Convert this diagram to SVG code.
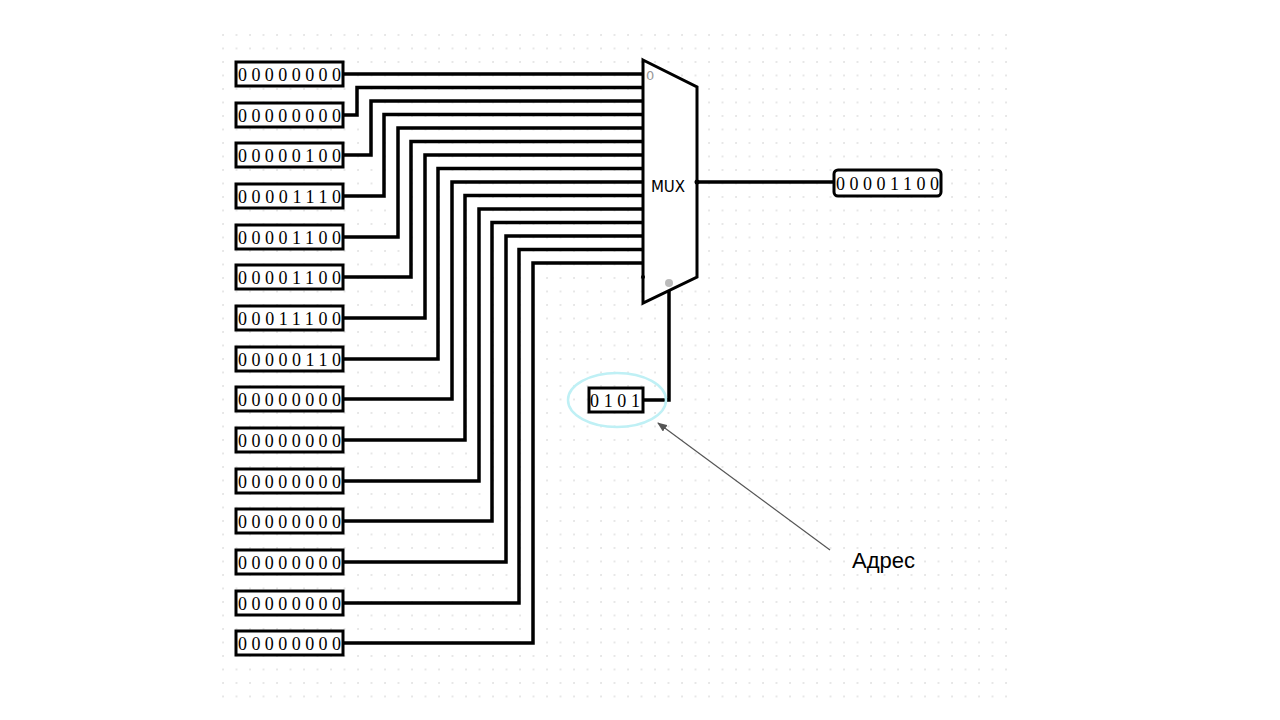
<svg xmlns="http://www.w3.org/2000/svg" width="1280" height="720" viewBox="0 0 1280 720">
<style>
.box{fill:#fff;stroke:#000;stroke-width:3}
.val{font-family:"Liberation Serif",serif;font-size:18px;fill:#000}
.w{fill:none;stroke:#000;stroke-width:3.5}
</style>
<defs>
<pattern id="g" width="13.5" height="13.5" patternUnits="userSpaceOnUse" x="222" y="34"><circle cx="1" cy="1" r="0.8" fill="#c8c8c8"/></pattern>
<marker id="ah" markerWidth="10" markerHeight="8" refX="9" refY="4" orient="auto" markerUnits="userSpaceOnUse"><path d="M0,0 L10,4 L0,8 Z" fill="#555"/></marker>
</defs>
<rect width="1280" height="720" fill="#fff"/>
<rect x="220" y="32" width="795" height="670" fill="url(#g)"/>
<g id="connectors">
<path class="w" d="M343,74H643"/>
<path class="w" d="M343,115H357V87.5H643"/>
<path class="w" d="M343,155H371V101H643"/>
<path class="w" d="M343,196H384V114.5H643"/>
<path class="w" d="M343,237H398V128H643"/>
<path class="w" d="M343,277H411V141.5H643"/>
<path class="w" d="M343,318H425V155H643"/>
<path class="w" d="M343,359H438V168.5H643"/>
<path class="w" d="M343,399H452V182H643"/>
<path class="w" d="M343,440H465V195.5H643"/>
<path class="w" d="M343,481H479V209H643"/>
<path class="w" d="M343,521H492V222.5H643"/>
<path class="w" d="M343,562H506V236H643"/>
<path class="w" d="M343,603H519V249.5H643"/>
<path class="w" d="M343,643H533V263H643"/>
<path class="w" d="M697,182H834"/>
<path class="w" d="M669,290V400H643"/>
<line x1="830" y1="550" x2="658" y2="423" stroke="#555" stroke-width="1.2" marker-end="url(#ah)"/>
</g>
<g id="mux">
<path d="M643,60L697,87V277L643,303Z" fill="#fff" stroke="#000" stroke-width="3"/>
<text x="668" y="192" font-family="DejaVu Sans,sans-serif" font-size="15" text-anchor="middle">MUX</text>
<text x="646" y="80" font-family="DejaVu Sans,sans-serif" font-size="13" fill="#999">0</text>
<circle cx="669" cy="283" r="4" fill="#bbb"/>
<circle cx="643" cy="277" r="2" fill="#000"/>
<circle cx="697" cy="182" r="2.5" fill="#000"/>
</g>
<g id="inputs">
<rect class="box" x="236" y="62" width="107" height="24"/><text class="val" x="238" y="81" textLength="103" lengthAdjust="spacing">00000000</text>
<rect class="box" x="236" y="103" width="107" height="24"/><text class="val" x="238" y="122" textLength="103" lengthAdjust="spacing">00000000</text>
<rect class="box" x="236" y="143" width="107" height="24"/><text class="val" x="238" y="162" textLength="103" lengthAdjust="spacing">00000100</text>
<rect class="box" x="236" y="184" width="107" height="24"/><text class="val" x="238" y="203" textLength="103" lengthAdjust="spacing">00001110</text>
<rect class="box" x="236" y="225" width="107" height="24"/><text class="val" x="238" y="244" textLength="103" lengthAdjust="spacing">00001100</text>
<rect class="box" x="236" y="265" width="107" height="24"/><text class="val" x="238" y="284" textLength="103" lengthAdjust="spacing">00001100</text>
<rect class="box" x="236" y="306" width="107" height="24"/><text class="val" x="238" y="325" textLength="103" lengthAdjust="spacing">00011100</text>
<rect class="box" x="236" y="347" width="107" height="24"/><text class="val" x="238" y="366" textLength="103" lengthAdjust="spacing">00000110</text>
<rect class="box" x="236" y="387" width="107" height="24"/><text class="val" x="238" y="406" textLength="103" lengthAdjust="spacing">00000000</text>
<rect class="box" x="236" y="428" width="107" height="24"/><text class="val" x="238" y="447" textLength="103" lengthAdjust="spacing">00000000</text>
<rect class="box" x="236" y="469" width="107" height="24"/><text class="val" x="238" y="488" textLength="103" lengthAdjust="spacing">00000000</text>
<rect class="box" x="236" y="509" width="107" height="24"/><text class="val" x="238" y="528" textLength="103" lengthAdjust="spacing">00000000</text>
<rect class="box" x="236" y="550" width="107" height="24"/><text class="val" x="238" y="569" textLength="103" lengthAdjust="spacing">00000000</text>
<rect class="box" x="236" y="591" width="107" height="24"/><text class="val" x="238" y="610" textLength="103" lengthAdjust="spacing">00000000</text>
<rect class="box" x="236" y="631" width="107" height="24"/><text class="val" x="238" y="650" textLength="103" lengthAdjust="spacing">00000000</text>
</g>
<g id="output">
<rect class="box" x="834" y="170" width="107" height="26" rx="4"/><text class="val" x="836" y="190" textLength="103" lengthAdjust="spacing">00001100</text>
</g>
<g id="address">
<ellipse cx="617" cy="400" rx="49" ry="27" fill="none" stroke="#bff0f5" stroke-width="2.5"/>
<rect class="box" x="589" y="388" width="54" height="24"/><text class="val" x="590" y="407" textLength="50" lengthAdjust="spacing">0101</text>
</g>
<text x="852" y="568" font-family="Liberation Sans,Arial,sans-serif" font-size="22">Адрес</text>
</svg>
